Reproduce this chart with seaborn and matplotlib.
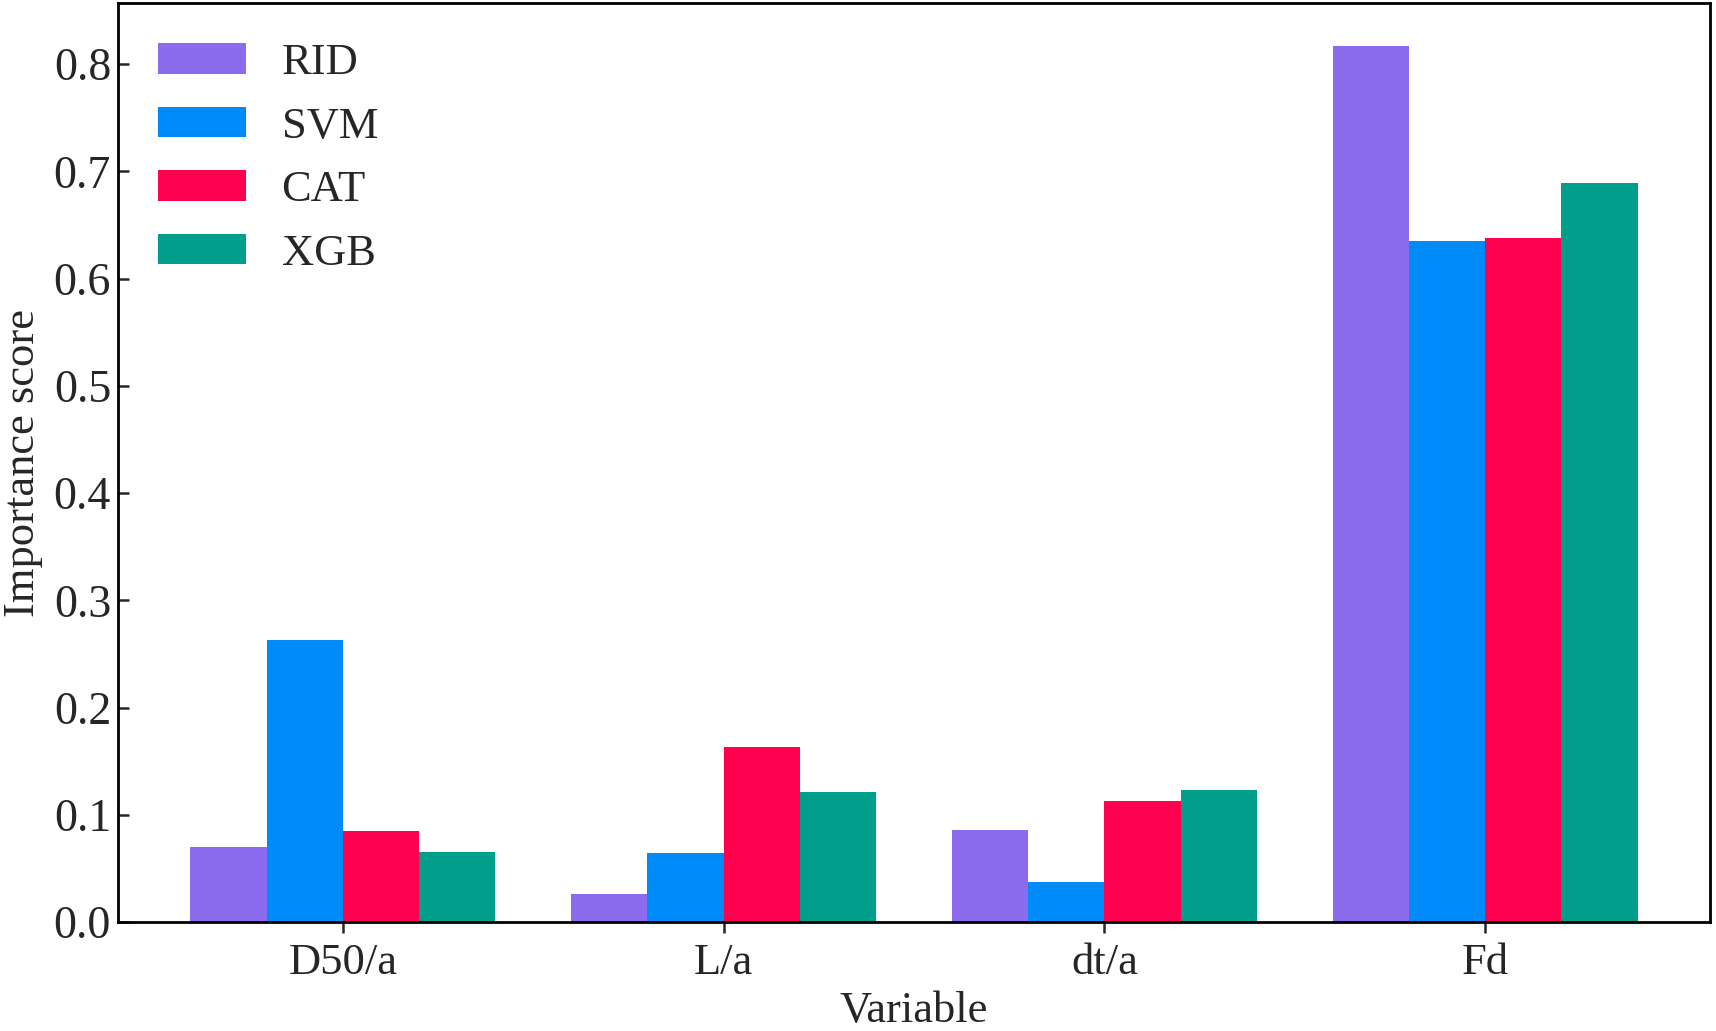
import pandas as pd
import matplotlib
matplotlib.use("Agg")
import matplotlib.pyplot as plt
import seaborn as sns

# 資料
variables = ["D50/a", "L/a", "dt/a", "Fd"]
models = ["RID", "SVM", "CAT", "XGB"]
rid = [0.070, 0.026, 0.086, 0.817]
svm = [0.263, 0.064, 0.037, 0.635]
cat = [0.085, 0.163, 0.113, 0.638]
xgb = [0.065, 0.121, 0.123, 0.689]
colors = ["#8c6bef", "#008bf8", "#ff004f", "#009e8b"]

sns.set_style("ticks")
plt.rcParams['font.family'] = ['Liberation Serif', 'DejaVu Serif']

rows = []
for m, vals in zip(models, [rid, svm, cat, xgb]):
    for v, s in zip(variables, vals):
        rows.append({"Variable": v, "Model": m, "Score": s})
df = pd.DataFrame(rows)

fig, ax = plt.subplots(figsize=(17.16, 10.31), dpi=100)
fig.subplots_adjust(left=0.0688, right=0.9965, bottom=0.1057, top=0.997)

sns.barplot(data=df, x="Variable", y="Score", hue="Model", order=variables,
            hue_order=models, palette=colors, width=0.8, saturation=1,
            edgecolor="none", linewidth=0, ax=ax)

ax.set_xlim(-0.59, 3.59)
ax.set_ylim(0, 0.857)
ax.set_yticks([0.0, 0.1, 0.2, 0.3, 0.4, 0.5, 0.6, 0.7, 0.8])
ax.set_yticklabels([f"{t:.1f}" for t in ax.get_yticks()])

ax.set_xlabel("Variable", fontsize=32, labelpad=6)
ax.set_ylabel("Importance score", fontsize=32, labelpad=8)
ax.tick_params(axis="y", direction="in", length=8, width=1.8, labelsize=33, pad=5)
ax.tick_params(axis="x", direction="out", length=8, width=1.8, labelsize=32, pad=7)
for sp in ax.spines.values():
    sp.set_visible(True)
    sp.set_linewidth(2)
    sp.set_color("black")

ax.legend(loc="upper left", frameon=False, fontsize=32, handlelength=1.98,
          handleheight=0.68, handletextpad=0.8, labelspacing=0.53,
          borderaxespad=0.5, bbox_to_anchor=(0.0, 1.0))

plt.savefig("out.png", dpi=100)
